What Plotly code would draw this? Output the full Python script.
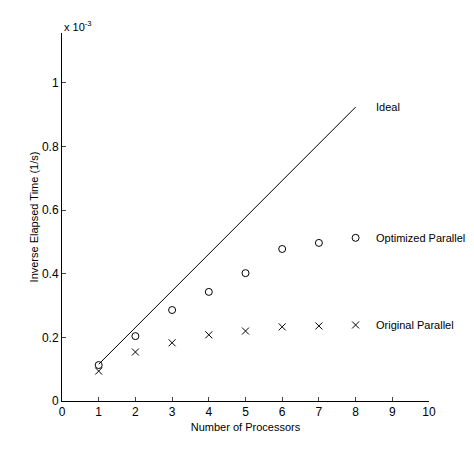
import plotly.graph_objects as go

processors = [1, 2, 3, 4, 5, 6, 7, 8]
ideal = [0.1155 * p for p in processors]  # ideal linear speedup from single-processor value
optimized = [0.113, 0.204, 0.286, 0.343, 0.402, 0.478, 0.497, 0.513]
original = [0.094, 0.154, 0.183, 0.208, 0.220, 0.233, 0.236, 0.239]
x_ticks = list(range(0, 11))
y_ticks = [0, 0.2, 0.4, 0.6, 0.8, 1.0]
y_tick_text = ["0", "0.2", "0.4", "0.6", "0.8", "1"]

FONT = "Liberation Sans Narrow, Arial Narrow, Liberation Sans, Arial, sans-serif"
FS = 11

fig = go.Figure()
fig.add_trace(go.Scatter(x=processors, y=ideal, mode="lines",
                         line=dict(color="black", width=1), name="Ideal"))
fig.add_trace(go.Scatter(x=processors, y=optimized, mode="markers",
                         marker=dict(symbol="circle-open", size=7, color="black",
                                     line=dict(width=1)),
                         name="Optimized Parallel"))
fig.add_trace(go.Scatter(x=processors, y=original, mode="markers",
                         marker=dict(symbol="x-thin-open", size=7, color="black",
                                     line=dict(width=1)),
                         name="Original Parallel"))

fig.add_annotation(x=8.5, y=ideal[-1], text="Ideal", showarrow=False,
                   xanchor="left", yanchor="middle", font=dict(size=FS))
fig.add_annotation(x=8.5, y=optimized[-1], text="Optimized Parallel", showarrow=False,
                   xanchor="left", yanchor="middle", font=dict(size=FS))
fig.add_annotation(x=8.5, y=original[-1], text="Original Parallel", showarrow=False,
                   xanchor="left", yanchor="middle", font=dict(size=FS))
fig.add_annotation(xref="paper", yref="paper", x=0, y=1, text="x 10<sup>-3</sup>",
                   showarrow=False, xanchor="left", yanchor="bottom", yshift=-2,
                   font=dict(size=FS))

fig.update_layout(
    width=466, height=443,
    margin=dict(l=54, r=45, t=25, b=50),
    plot_bgcolor="white", paper_bgcolor="white",
    showlegend=False,
    font=dict(family=FONT, size=FS, color="black"),
    xaxis=dict(range=[0, 10], tickvals=x_ticks, ticks="inside", ticklen=4,
               showline=True, linecolor="black", linewidth=1, showgrid=False,
               zeroline=False,
               title=dict(text="Number of Processors", standoff=4, font=dict(size=FS)),
               tickfont=dict(size=12)),
    yaxis=dict(range=[0, 1.157], tickvals=y_ticks, ticktext=y_tick_text,
               ticks="inside", ticklen=4,
               showline=True, linecolor="black", linewidth=1, showgrid=False,
               zeroline=False,
               title=dict(text="Inverse Elapsed Time (1/s)", standoff=1, font=dict(size=FS)),
               tickfont=dict(size=12)),
)

fig.write_html("out.html")
